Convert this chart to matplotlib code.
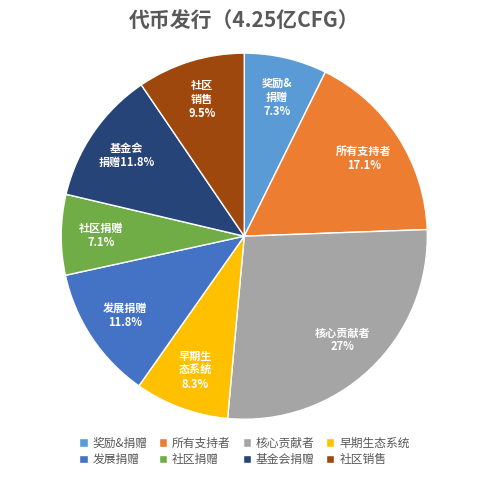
import matplotlib.pyplot as plt

plt.rcParams['font.family'] = ['Noto Sans CJK SC', 'DejaVu Sans']

# 代币分配
categories = ["奖励&捐赠", "所有支持者", "核心贡献者", "早期生态系统",
              "发展捐赠", "社区捐赠", "基金会捐赠", "社区销售"]
shares = [7.3, 17.1, 27, 8.3, 11.8, 7.1, 11.8, 9.5]
slice_labels = ["奖励&\n捐赠\n7.3%", "所有支持者\n17.1%", "核心贡献者\n27%",
                "早期生\n态系统\n8.3%", "发展捐赠\n11.8%", "社区捐赠\n7.1%",
                "基金会\n捐赠11.8%", "社区\n销售\n9.5%"]
colors = ["#5B9BD5", "#ED7D31", "#A5A5A5", "#FFC000",
          "#4472C4", "#70AD47", "#264478", "#9E480E"]

fig = plt.figure(figsize=(4.89, 4.84), dpi=100)
ax = fig.add_axes([0.121, 0.13, 0.757, 0.764])

wedges, texts = ax.pie(shares, labels=slice_labels, colors=colors,
                       startangle=90, counterclock=False, labeldistance=0.78,
                       wedgeprops=dict(edgecolor="white", linewidth=1))
for t in texts:
    t.set_color("white")
    t.set_fontsize(8)
    t.set_fontweight("bold")
    t.set_ha("center")
    t.set_va("center")
    t.set_linespacing(1.1)
ax.set_xlim(-1.01, 1.01)
ax.set_ylim(-1.01, 1.01)
ax.set_aspect("equal")

fig.text(0.5, 0.955, "代币发行（4.25亿CFG）", ha="center", va="center",
         fontsize=15, fontweight="bold", color="#595959")

# legend fills column-wise, so reorder to read row by row
order = [0, 4, 1, 5, 2, 6, 3, 7]
fig.legend([wedges[i] for i in order], [categories[i] for i in order],
           loc="lower center", ncol=4, frameon=False,
           fontsize=8.5, handlelength=0.7, handleheight=0.7,
           columnspacing=1.0, handletextpad=0.4, labelspacing=0.3,
           bbox_to_anchor=(0.5, 0.015), labelcolor="#595959")

fig.savefig("out.png")
